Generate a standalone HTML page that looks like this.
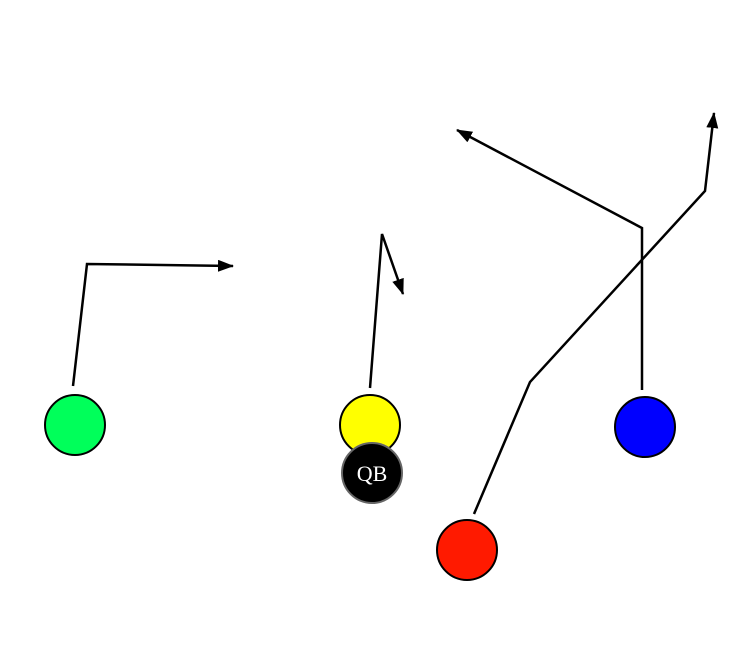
<!DOCTYPE html>
<html><head><style>html,body{margin:0;padding:0;background:#fff;}</style></head>
<body>
<svg width="750" height="655" viewBox="0 0 750 655" xmlns="http://www.w3.org/2000/svg">
<defs>
<marker id="a" markerWidth="10" markerHeight="10" refX="9" refY="5" orient="auto" markerUnits="userSpaceOnUse" viewBox="0 0 10 10">
</marker>
<marker id="ar" viewBox="0 0 16 12" refX="15" refY="6" markerWidth="16" markerHeight="12" markerUnits="userSpaceOnUse" orient="auto">
<path d="M0,0 L16,6 L0,12 z" fill="#000"/>
</marker>
</defs>
<g fill="none" stroke="#000" stroke-width="2.5" stroke-linejoin="miter">
<polyline points="73,386 87,264 233,266" marker-end="url(#ar)"/>
<polyline points="370,388 382,234 403,294" marker-end="url(#ar)"/>
<polyline points="642,390 642,228 457,130" marker-end="url(#ar)"/>
<polyline points="474,514 530,382 705,191 714,113" marker-end="url(#ar)"/>
</g>
<circle cx="75" cy="425" r="30" fill="#00ff5a" stroke="#000" stroke-width="2"/>
<circle cx="370" cy="425" r="30" fill="#ffff00" stroke="#000" stroke-width="2"/>
<circle cx="372" cy="473" r="30" fill="#000" stroke="#666" stroke-width="2"/>
<text x="372" y="481" text-anchor="middle" font-family="Liberation Serif, serif" font-size="22" fill="#fff">QB</text>
<circle cx="645" cy="427" r="30" fill="#0000ff" stroke="#000" stroke-width="2"/>
<circle cx="467" cy="550" r="30" fill="#ff1a00" stroke="#000" stroke-width="2"/>
</svg>
</body></html>
